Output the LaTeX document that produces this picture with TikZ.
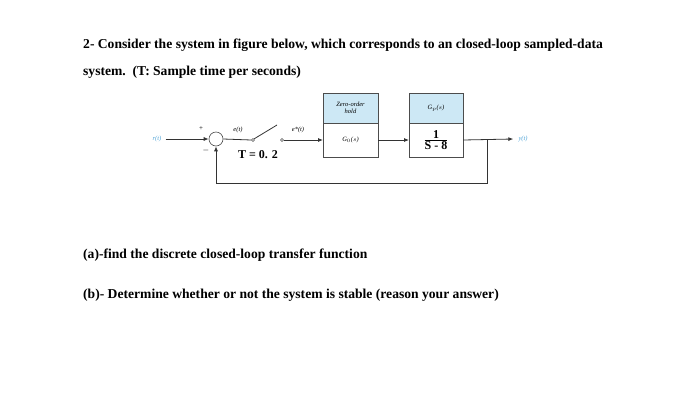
\documentclass[tikz,border=0pt]{standalone}
\usepackage{fontspec}
\setmainfont{Liberation Serif}
\usetikzlibrary{arrows.meta}
\definecolor{hdr}{HTML}{CDE8F5}
\definecolor{lbl}{HTML}{4FA3D6}
\begin{document}
\begin{tikzpicture}[x=1pt,y=-1pt,
  txt/.style={anchor=west,font=\bfseries\fontsize{13.6}{15}\selectfont,inner sep=0},
  blk/.style={draw=black!70,line width=0.6pt},
  wire/.style={draw=black!80,line width=0.8pt},
  arr/.style={wire,-{Latex[length=5pt,width=4pt]}},
  small/.style={font=\itshape\fontsize{6.5}{7}\selectfont,inner sep=0}]
\useasboundingbox (0,0) rectangle (700,402);
\node[txt] (l1) at (83,45) {2- Consider the system in figure below, which corresponds to an closed-loop sampled-data};
\node[txt] (l2) at (83,72) {system.\ \ (T: Sample time per seconds)};
\node[txt] (qa) at (83,255) {(a)-find the discrete closed-loop transfer function};
\node[txt] (qb) at (83,295) {(b)- Determine whether or not the system is stable (reason your answer)};
% blocks
\fill[hdr] (323,93) rectangle (378,123);
\draw[blk] (323,93) rectangle (378,157); \draw[blk] (323,123) -- (378,123);
\fill[hdr] (409,93) rectangle (463,123);
\draw[blk] (409,93) rectangle (463,157); \draw[blk] (409,123) -- (463,123);
\node[small,align=center] (zh) at (350.5,108) {Zero-order\\hold};
\node[small] (g0) at (350.5,140) {G$_0$($s$)};
\node[small] (gp) at (436,108) {G$_p$($s$)};
\node[inner sep=0,font=\bfseries\fontsize{12}{14}\selectfont] (fr) at (436,140) {$\frac{\textbf{1}}{\textbf{S - 8}}$};
\coordinate (zohW) at (323,140);
\coordinate (zohE) at (378,140);
\coordinate (gpW) at (409,140);
\coordinate (gpE) at (463,140);
% junction
\node[draw=black!70,circle,minimum size=14pt,inner sep=0,line width=0.6pt] (sum) at (216,139) {};
\node[small,text=lbl] (r) at (157,139) {r(t)};
\node[small,text=lbl] (y) at (523,139) {y(t)};
\node[font=\fontsize{7}{7}\selectfont,inner sep=0] (p) at (201,129) {+};
\node[font=\fontsize{8}{8}\selectfont,inner sep=0] (m) at (206,150) {$-$};
\draw[arr] ([xshift=4pt]r.east) -- (sum.west);
% switch
\node[draw=black!70,circle,minimum size=3pt,inner sep=0] (s1) at (253,140) {};
\node[draw=black!70,circle,minimum size=3pt,inner sep=0] (s2) at (282,140) {};
\coordinate (stip) at (277,125);
\draw[wire] (sum.east) -- (s1.west);
\draw[wire] (s1.north east) -- (stip);
\draw[arr] (s2.east) -- (zohW);
\node[small] (e) at (238,130) {e(t)};
\node[small] (es) at (298,130) {e*(t)};
\node[font=\bfseries\fontsize{12}{14}\selectfont,inner sep=0] (T) at (258,155) {T = 0. 2};
\draw[arr] (zohE) -- (gpW);
\coordinate (br) at (487,140);
\coordinate (bb) at (487,183);
\coordinate (bl) at (216,183);
\draw[arr] (gpE) -- ([xshift=-5pt]y.west);
\draw[arr] (br) -- (bb) -- (bl) -- (sum.south);
\end{tikzpicture}
\end{document}
